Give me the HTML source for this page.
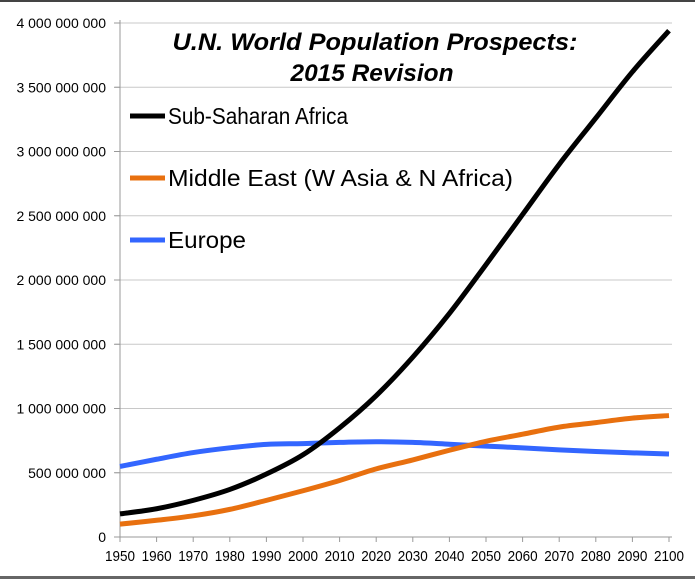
<!DOCTYPE html>
<html><head><meta charset="utf-8"><style>
body{margin:0;background:#fff;}
svg{display:block;font-family:"Liberation Sans",sans-serif;}
</style></head><body>
<svg id="c" width="695" height="579">
<rect x="0" y="0" width="695" height="2" fill="#444"/>
<rect x="0" y="576" width="695" height="3" fill="#666"/>
<g id="grid"></g><g id="axes"></g><g id="series"></g>
<g font-weight="bold" font-style="italic" font-size="24" text-anchor="middle" fill="#000">
<text x="375" y="50" textLength="405" lengthAdjust="spacingAndGlyphs">U.N. World Population Prospects:</text>
<text x="372" y="81" textLength="163" lengthAdjust="spacingAndGlyphs">2015 Revision</text>
</g>
<g font-size="23" fill="#000">
<g><line x1="130" y1="116" x2="165" y2="116" stroke="#000" stroke-width="5"/><text x="168" y="124" textLength="180" lengthAdjust="spacingAndGlyphs">Sub-Saharan Africa</text></g>
<g><line x1="130" y1="178" x2="165" y2="178" stroke="#e8700f" stroke-width="5"/><text x="168" y="186" textLength="345" lengthAdjust="spacingAndGlyphs">Middle East (W Asia &amp; N Africa)</text></g>
<g><line x1="130" y1="240" x2="165" y2="240" stroke="#3366ff" stroke-width="5"/><text x="168" y="248" textLength="78" lengthAdjust="spacingAndGlyphs">Europe</text></g>
</g>
</svg>
<script>
const years=[1950,1960,1970,1980,1990,2000,2010,2020,2030,2040,2050,2060,2070,2080,2090,2100];
const ssa=[180,220,285,370,490,640,850,1100,1400,1740,2120,2510,2900,3260,3620,3940];
const mideast=[100,130,165,215,285,360,440,530,600,675,745,800,855,890,925,945];
const europe=[549,605,657,694,721,727,736,741,736,722,707,694,678,665,655,646];
const yTicks=[0,500,1000,1500,2000,2500,3000,3500,4000];
const yLabels=["0","500 000 000","1 000 000 000","1 500 000 000","2 000 000 000","2 500 000 000","3 000 000 000","3 500 000 000","4 000 000 000"];
const NS="http://www.w3.org/2000/svg";
const X=y=>120+(y-1950)*(549/150);
const Y=v=>537-v*(514/4000);
function mk(t,a,p){const e=document.createElementNS(NS,t);for(const k in a)e.setAttribute(k,a[k]);p.appendChild(e);return e;}
const grid=document.getElementById('grid'),axes=document.getElementById('axes'),ser=document.getElementById('series');
yTicks.forEach((v,i)=>{
  if(v>0){const g=mk('line',{x1:115,x2:672,y1:Y(v),y2:Y(v),stroke:'#c8c8c8','stroke-width':1},grid);
  
  }
  const tk=mk('line',{x1:114,x2:120,y1:Y(v),y2:Y(v),stroke:'#999'},axes);
  
  
  const t=mk('text',{x:106,y:Y(v)+5,'text-anchor':'end','font-size':14,fill:'#000'},axes);
  t.textContent=yLabels[i];
  
  
});
const ya=mk('line',{x1:120,x2:120,y1:20,y2:540,stroke:'#999'},axes);


const xa=mk('line',{x1:120,x2:672,y1:537,y2:537,stroke:'#999'},axes);


years.forEach(yr=>{
  const tk=mk('line',{x1:X(yr),x2:X(yr),y1:537,y2:542,stroke:'#999'},axes);
  
  
  const t=mk('text',{x:X(yr),y:561,'text-anchor':'middle','font-size':15,fill:'#000',textLength:30,lengthAdjust:'spacingAndGlyphs'},axes);
  t.textContent=yr;
  
  
});
function path(vals){
  const p=vals.map((v,i)=>[X(years[i]),Y(v)]);
  let d='M'+p[0][0]+','+p[0][1];
  for(let i=0;i<p.length-1;i++){
    const p0=p[i-1]||p[i],p1=p[i],p2=p[i+1],p3=p[i+2]||p2;
    d+=' C'+(p1[0]+(p2[0]-p0[0])/6)+','+(p1[1]+(p2[1]-p0[1])/6)+' '+(p2[0]-(p3[0]-p1[0])/6)+','+(p2[1]-(p3[1]-p1[1])/6)+' '+p2[0]+','+p2[1];
  }
  return d;
}
const e1=mk('path',{d:path(europe),fill:'none',stroke:'#3366ff','stroke-width':5},ser);


const e2=mk('path',{d:path(mideast),fill:'none',stroke:'#e8700f','stroke-width':5},ser);


const e3=mk('path',{d:path(ssa),fill:'none',stroke:'#000','stroke-width':5},ser);


</script>
</body></html>
